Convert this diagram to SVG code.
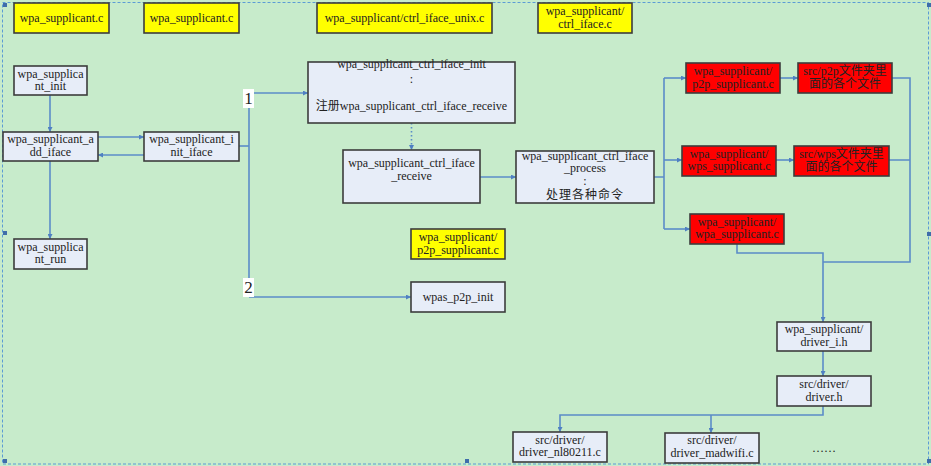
<svg xmlns="http://www.w3.org/2000/svg" width="931" height="466" viewBox="0 0 931 466">
<defs>
<style>
text{font-family:"Liberation Serif","Noto Sans CJK SC",serif;font-size:12px;fill:#222;text-anchor:middle}
.b{fill:#E7EDF8;stroke:#3c3c3c;stroke-width:1.6}
.y{fill:#FFFF00;stroke:#3c3c3c;stroke-width:1.6}
.r{fill:#FF0000;stroke:#3c3c3c;stroke-width:1.6}
.c{fill:none;stroke:#5B8CC8;stroke-width:1.6}
.h{fill:#3F6DAA}
</style>
<marker id="a" viewBox="0 0 10 10" refX="10" refY="5" markerWidth="5" markerHeight="5" orient="auto" markerUnits="userSpaceOnUse"><path d="M0,0L10,5L0,10z" fill="#4F80C2"/></marker>
</defs>
<rect x="0" y="0" width="931" height="466" fill="#C7EBCB"/>
<rect x="2.5" y="2.5" width="926" height="461.5" fill="none" stroke="#5B9BD5" stroke-width="1" stroke-dasharray="3,2"/>
<g id="handles">
<rect class="h" x="3" y="3" width="4" height="4"/><rect class="h" x="465" y="3" width="4" height="4"/><rect class="h" x="927" y="3" width="4" height="4"/>
<rect class="h" x="3" y="231" width="4" height="4"/><rect class="h" x="927" y="232" width="4" height="4"/>
<rect class="h" x="3" y="459" width="4" height="4"/><rect class="h" x="465" y="459" width="4" height="4"/><rect class="h" x="927" y="459" width="4" height="4"/>
</g>
<g id="connectors">
<path class="c" d="M50,95V132" marker-end="url(#a)"/>
<path class="c" d="M98,137H144" marker-end="url(#a)"/>
<path class="c" d="M144,155H98" marker-end="url(#a)"/>
<path class="c" d="M50,161V239" marker-end="url(#a)"/>
<path class="c" d="M239,146H249"/>
<path class="c" d="M249,93V297"/>
<path class="c" d="M249,93H308" marker-end="url(#a)"/>
<path class="c" d="M249,297H411" marker-end="url(#a)"/>
<path class="c" d="M411.5,123V150" stroke-dasharray="1.5,2.5" marker-end="url(#a)"/>
<path class="c" d="M480,177H516" marker-end="url(#a)"/>
<path class="c" d="M654,177H664M664,78V229"/>
<path class="c" d="M664,78H686" marker-end="url(#a)"/>
<path class="c" d="M664,160H682" marker-end="url(#a)"/>
<path class="c" d="M664,229H690" marker-end="url(#a)"/>
<path class="c" d="M780,78H798" marker-end="url(#a)"/>
<path class="c" d="M776,160H794" marker-end="url(#a)"/>
<path class="c" d="M892,78H910V262H823M889,160H910"/>
<path class="c" d="M737,244V253H823V322" marker-end="url(#a)"/>
<path class="c" d="M823,351V376" marker-end="url(#a)"/>
<path class="c" d="M823,406V415H560V432" marker-end="url(#a)"/>
<path class="c" d="M711,415V433" marker-end="url(#a)"/>
</g>
<g id="label1"><rect x="243" y="89" width="11" height="19" fill="#fff"/><text x="248.5" y="104" style="font-size:17px">1</text></g>
<g id="label2"><rect x="243" y="278" width="11" height="19" fill="#fff"/><text x="248.5" y="293" style="font-size:17px">2</text></g>
<g id="y1"><rect class="y" x="14" y="3" width="95" height="30"/><text x="61.5" y="22">wpa_supplicant.c</text></g>
<g id="y2"><rect class="y" x="144" y="3" width="95" height="30"/><text x="191.5" y="22">wpa_supplicant.c</text></g>
<g id="y3"><rect class="y" x="317" y="3" width="175" height="30"/><text x="404.5" y="22">wpa_supplicant/ctrl_iface_unix.c</text></g>
<g id="y4"><rect class="y" x="538" y="3" width="94" height="30"/><text x="585" y="15">wpa_supplicant/</text><text x="585" y="28">ctrl_iface.c</text></g>
<g id="init"><rect class="b" x="14" y="66" width="73" height="29"/><text x="50.5" y="77.5">wpa_supplica</text><text x="50.5" y="90">nt_init</text></g>
<g id="add_iface"><rect class="b" x="3" y="132" width="95" height="29"/><text x="50.5" y="143">wpa_supplicant_a</text><text x="50.5" y="155.5">dd_iface</text></g>
<g id="init_iface"><rect class="b" x="144" y="132" width="95" height="29"/><text x="191.5" y="143">wpa_supplicant_i</text><text x="191.5" y="155.5">nit_iface</text></g>
<g id="run"><rect class="b" x="14" y="239" width="73" height="30"/><text x="50.5" y="250.5">wpa_supplica</text><text x="50.5" y="263">nt_run</text></g>
<g id="ctrl_init"><rect class="b" x="308" y="62" width="207" height="61"/><text x="411.5" y="68">wpa_supplicant_ctrl_iface_init</text><text x="411.5" y="83">:</text><text x="411.5" y="110">注册wpa_supplicant_ctrl_iface_receive</text></g>
<g id="ctrl_receive"><rect class="b" x="343" y="150" width="137" height="53"/><text x="411.5" y="167">wpa_supplicant_ctrl_iface</text><text x="411.5" y="180">_receive</text></g>
<g id="ctrl_process"><rect class="b" x="516" y="151" width="138" height="52"/><text x="585" y="159.5">wpa_supplicant_ctrl_iface</text><text x="585" y="172">_process</text><text x="585" y="185">:</text><text x="585" y="199" style="letter-spacing:1px">处理各种命令</text></g>
<g id="y5"><rect class="y" x="411" y="229" width="94" height="30"/><text x="458" y="241">wpa_supplicant/</text><text x="458" y="253.5">p2p_supplicant.c</text></g>
<g id="p2p_init"><rect class="b" x="411" y="282" width="94" height="30"/><text x="458" y="300.5">wpas_p2p_init</text></g>
<g id="r1"><rect class="r" x="686" y="63" width="94" height="30"/><text x="733" y="75">wpa_supplicant/</text><text x="733" y="87.5">p2p_supplicant.c</text></g>
<g id="r2"><rect class="r" x="798" y="63" width="94" height="30"/><text x="845" y="75">src/p2p文件夹里</text><text x="845" y="88">面的各个文件</text></g>
<g id="r3"><rect class="r" x="682" y="146" width="94" height="30"/><text x="729" y="157.5">wpa_supplicant/</text><text x="729" y="170">wps_supplicant.c</text></g>
<g id="r4"><rect class="r" x="794" y="146" width="95" height="30"/><text x="841.5" y="157.5">src/wps文件夹里</text><text x="841.5" y="170.5">面的各个文件</text></g>
<g id="r5"><rect class="r" x="690" y="214" width="94" height="30"/><text x="737" y="225.5">wpa_supplicant/</text><text x="737" y="238">wpa_supplicant.c</text></g>
<g id="driver_i"><rect class="b" x="777" y="322" width="94" height="29"/><text x="824" y="333">wpa_supplicant/</text><text x="824" y="345.5">driver_i.h</text></g>
<g id="driver_h"><rect class="b" x="777" y="376" width="94" height="30"/><text x="824" y="387.5">src/driver/</text><text x="824" y="400.5">driver.h</text></g>
<g id="nl80211"><rect class="b" x="513" y="432" width="94" height="30"/><text x="560" y="443.5">src/driver/</text><text x="560" y="456">driver_nl80211.c</text></g>
<g id="madwifi"><rect class="b" x="665" y="433" width="94" height="30"/><text x="712" y="444">src/driver/</text><text x="712" y="457">driver_madwifi.c</text></g>
<text x="824" y="452">……</text>
</svg>
